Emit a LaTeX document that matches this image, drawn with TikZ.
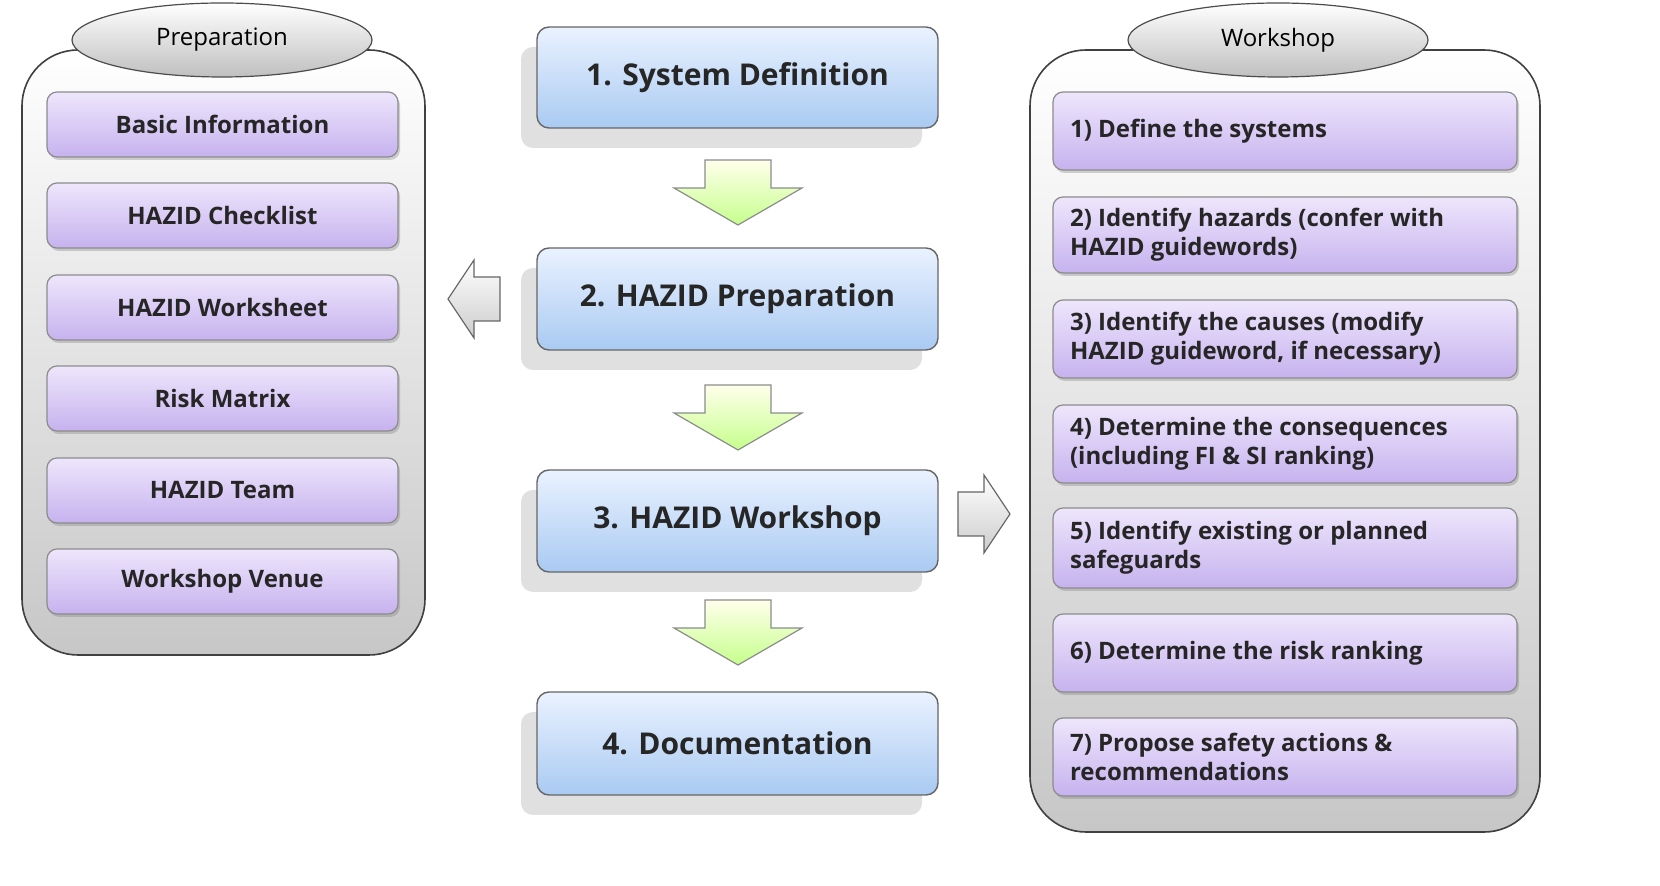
\documentclass[tikz,border=0pt]{standalone}
\usepackage{fontspec}
\setmainfont{Open Sans}
\usetikzlibrary{shapes.geometric,shapes.arrows,shadows}
\definecolor{itop}{HTML}{EEE6FC}
\definecolor{ibot}{HTML}{C6B2EE}
\definecolor{mtop}{HTML}{EAF2FF}
\definecolor{mbot}{HTML}{A9CAF2}
\begin{document}
\begin{tikzpicture}[x=0.5pt,y=-0.5pt,
 cont/.style={draw=black!75,line width=0.8pt,rounded corners=28pt,top color=white,bottom color=black!22},
 hdr/.style={ellipse,draw=black!70,line width=0.6pt,top color=white,bottom color=black!25,minimum width=150pt,minimum height=37pt,font=\fontsize{12}{14}\selectfont},
 item/.style={draw=black!45,line width=0.6pt,rounded corners=5pt,top color=itop,bottom color=ibot,drop shadow={shadow xshift=1pt,shadow yshift=-1.5pt,opacity=0.35}},
 itxt/.style={font=\fontsize{12}{14.5}\selectfont\bfseries,text=black!85,align=left,anchor=west},
 ctxt/.style={font=\fontsize{12}{15}\selectfont\bfseries,text=black!85},
 main/.style={draw=black!60,line width=0.7pt,rounded corners=6pt,top color=mtop,bottom color=mbot,drop shadow={shadow xshift=-8pt,shadow yshift=-10pt,opacity=0.2,fill=black!60}},
 mtxt/.style={font=\fontsize{15}{18}\selectfont\bfseries,text=black!85},
 arr/.style={draw=black!45,line width=0.6pt,top color=yellow!8,bottom color=green!50!yellow!45},
 sarr/.style={draw=black!60,line width=0.6pt,top color=white,bottom color=black!20}]
\useasboundingbox (0,0) rectangle (1660,886);
\fill[white] (0,0) rectangle (1660,886);
% left container
\draw[cont] (22,50) rectangle (425,655);
\node[hdr] (lh) at (222,40) {Preparation};
\foreach \n/\a/\b/\t in {l1/92/157/Basic Information,l2/183/248/HAZID Checklist,l3/275/340/HAZID Worksheet,l4/366/431/Risk Matrix,l5/458/523/HAZID Team,l6/549/614/Workshop Venue}{
 \draw[item] (47,\a) rectangle (398,\b);
 \node[ctxt] (\n) at (222.5,{(\a+\b)/2}) {\t};
}
% right container
\draw[cont] (1030,50) rectangle (1540,832);
\node[hdr] (rh) at (1278,40) {Workshop};
\foreach \n/\a/\b/\t in {r1/92/170/{1) Define the systems},r2/197/273/{2) Identify hazards (confer with\\HAZID guidewords)},r3/300/378/{3) Identify the causes (modify\\HAZID guideword, if necessary)},r4/405/483/{4) Determine the consequences\\(including FI \& SI ranking)},r5/508/588/{5) Identify existing or planned\\safeguards},r6/614/692/{6) Determine the risk ranking},r7/718/796/{7) Propose safety actions \&\\recommendations}}{
 \draw[item] (1053,\a) rectangle (1517,\b);
 \node[itxt] (\n) at (1063,{(\a+\b)/2}) {\t};
}
% center boxes
\foreach \n/\a/\b/\t in {c1/27/128/1. System Definition,c2/248/350/2. HAZID Preparation,c3/470/572/3. HAZID Workshop,c4/692/795/4. Documentation}{
 \draw[main] (537,\a) rectangle (938,\b);
 \node[mtxt] (\n) at (737.5,{(\a+\b)/2}) {\t};
}
% down arrows
\foreach \y in {160,385,600}{
 \draw[arr] (705,\y) -- (771,\y) -- (771,\y+28) -- (802,\y+28) -- (738,\y+65) -- (674,\y+28) -- (705,\y+28) -- cycle;
}
% side arrows
\draw[sarr] (500,277) -- (474,277) -- (474,260) -- (448,299) -- (474,338) -- (474,321) -- (500,321) -- cycle;
\draw[sarr] (958,492) -- (984,492) -- (984,475) -- (1010,514) -- (984,553) -- (984,536) -- (958,536) -- cycle;
\end{tikzpicture}
\end{document}
